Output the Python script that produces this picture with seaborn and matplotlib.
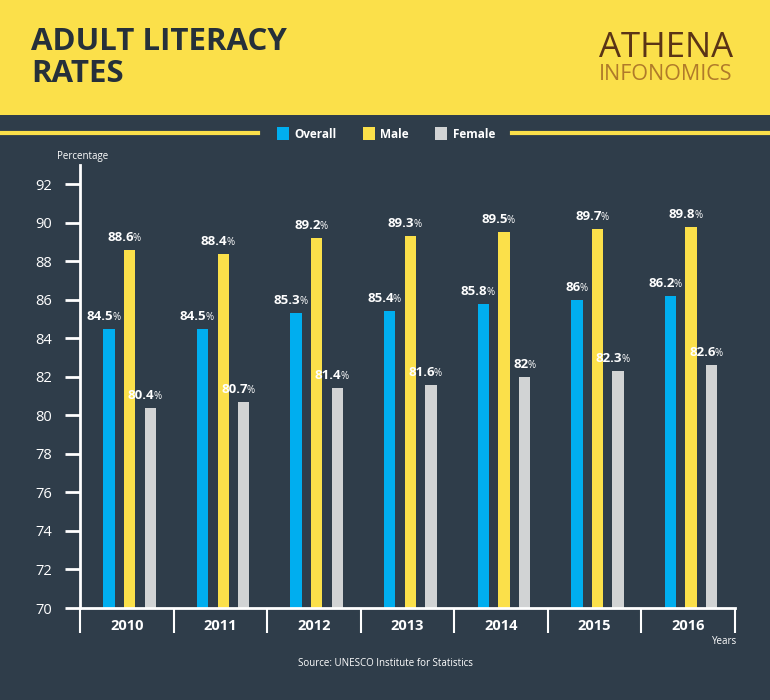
import pandas as pd
import matplotlib.pyplot as plt
import seaborn as sns
from matplotlib.patches import Rectangle, Patch
from matplotlib.lines import Line2D

years = ['2010', '2011', '2012', '2013', '2014', '2015', '2016']
overall = [84.5, 84.5, 85.3, 85.4, 85.8, 86, 86.2]
male = [88.6, 88.4, 89.2, 89.3, 89.5, 89.7, 89.8]
female = [80.4, 80.7, 81.4, 81.6, 82, 82.3, 82.6]
groups = ['Overall', 'Male', 'Female']
y_ticks = [70, 72, 74, 76, 78, 80, 82, 84, 86, 88, 90, 92]

bg = '#2f3d4a'
yellow = '#fbe04a'
colors = {'Overall': '#00aeef', 'Male': yellow, 'Female': '#d1d3d4'}

df = pd.DataFrame({
    'Year': years * 3,
    'Group': ['Overall'] * 7 + ['Male'] * 7 + ['Female'] * 7,
    'Value': overall + male + female,
})

plt.rcParams['font.family'] = ['Open Sans', 'DejaVu Sans']

fig = plt.figure(figsize=(7.7, 7), dpi=100, facecolor=bg)
ax = fig.add_axes([80 / 770, 1 - 608 / 700, 655 / 770, 443 / 700])
ax.set_facecolor(bg)

sns.barplot(data=df, x='Year', y='Value', hue='Group', hue_order=groups,
            palette=colors, width=0.66, gap=0.45, legend=False,
            saturation=1, ax=ax)

ax.set_ylim(70, 93)
ax.set_xlim(-0.5, 6.5)

# shift bars slightly right like the original
for p in ax.patches:
    p.set_x(p.get_x() + 0.03)

# value labels: number + small percent sign
for p, v in zip(ax.patches, overall + male + female):
    cx = p.get_x() + p.get_width() / 2
    top = p.get_height()
    ax.annotate(f'{v:g}', (cx, top), xytext=(4, 6), textcoords='offset pixels',
                ha='right', va='bottom', color='white', fontsize=9.5, fontweight='bold')
    ax.annotate('%', (cx, top), xytext=(3, 6), textcoords='offset pixels',
                ha='left', va='bottom', color='white', fontsize=7)

# axes styling
for s in ['top', 'right']:
    ax.spines[s].set_visible(False)
for s in ['left', 'bottom']:
    ax.spines[s].set_color('white')
    ax.spines[s].set_linewidth(2)

ax.set_yticks(y_ticks)
ax.set_yticklabels([str(t) for t in y_ticks], color='white', fontsize=10.5)
ax.tick_params(axis='y', length=11, width=2, color='white', pad=9)

ax.set_xticks(range(len(years)))
ax.set_xticklabels(years, color='white', fontsize=10.5, fontweight='bold')
ax.tick_params(axis='x', which='major', length=0, pad=8)
ax.set_xticks([i - 0.5 for i in range(len(years) + 1)], minor=True)
ax.tick_params(axis='x', which='minor', length=18, width=1.5, color='white')

ax.set_xlabel('')
ax.set_ylabel('')

# header band
fig.patches.append(Rectangle((0, 1 - 115 / 700), 1, 115 / 700, transform=fig.transFigure,
                             facecolor=yellow, edgecolor='none', zorder=0))
fig.text(31 / 770, 1 - 58 / 700, 'ADULT LITERACY\nRATES', color='#26303a', fontsize=22.5,
         fontweight='bold', ha='left', va='center', linespacing=1.1)
fig.text(666 / 770, 1 - 48 / 700, 'ATHENA', color='#5a3416', fontsize=25,
         ha='center', va='center')
fig.text(666 / 770, 1 - 74 / 700, 'INFONOMICS', color='#b07a2a', fontsize=15.5,
         ha='center', va='center')

# legend with yellow rules
handles = [Patch(facecolor=colors[g], edgecolor='none', label=g) for g in groups]
leg = fig.legend(handles=handles, loc='center', bbox_to_anchor=(386 / 770, 1 - 134 / 700),
                 ncol=3, frameon=False, fontsize=8.5, handlelength=1, handleheight=1.2,
                 columnspacing=2.2, handletextpad=0.5)
for t in leg.get_texts():
    t.set_color('white')
    t.set_fontweight('bold')
fig.lines.append(Line2D([0, 258 / 770], [1 - 133 / 700] * 2, transform=fig.transFigure,
                        color=yellow, linewidth=3))
fig.lines.append(Line2D([512 / 770, 1], [1 - 133 / 700] * 2, transform=fig.transFigure,
                        color=yellow, linewidth=3))

fig.text(57 / 770, 1 - 156 / 700, 'Percentage', color='white', fontsize=7,
         ha='left', va='center')
fig.text(737 / 770, 1 - 642 / 700, 'Years', color='white', fontsize=7,
         ha='right', va='center')
fig.text(385 / 770, 1 - 663 / 700, 'Source: UNESCO Institute for Statistics', color='white',
         fontsize=7, ha='center', va='center')

fig.savefig('out.png', dpi=100, facecolor=bg)
